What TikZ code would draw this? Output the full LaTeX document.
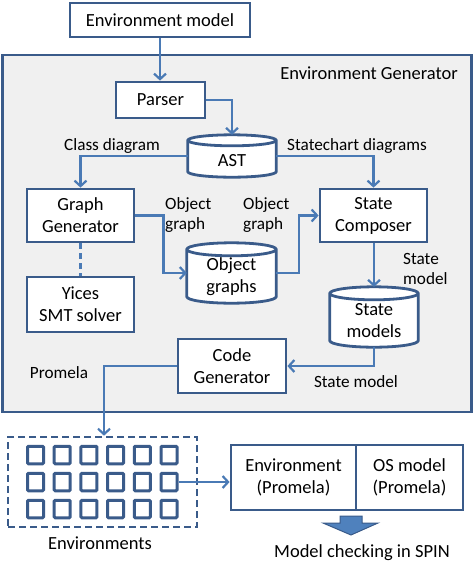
\documentclass[tikz,border=0pt]{standalone}
\usepackage{fontspec}
\setmainfont{Carlito}
\usetikzlibrary{arrows.meta,calc}
\definecolor{boxcol}{HTML}{3A5B8A}
\definecolor{linecol}{HTML}{4A7AB5}
\definecolor{genfill}{HTML}{F0F0F0}
\definecolor{arrfill}{HTML}{4F81BD}
\tikzset{
  boxnode/.style={draw=boxcol, line width=2.8pt, fill=white, inner sep=0pt, align=center,
    font=\fontsize{18.5}{22}\selectfont},
  cylnode/.style={inner sep=0pt},
  cyltext/.style={inner sep=0pt, align=center, font=\fontsize{18.5}{22}\selectfont},
  lbl/.style={inner sep=0pt, font=\fontsize{17.2}{20}\selectfont},
  conn/.style={draw=linecol, line width=2.2pt, -{Straight Barb[length=5.5pt,width=12pt,line width=2.2pt]}},
  plainconn/.style={draw=linecol, line width=2.2pt},
  sq/.style={draw=boxcol, line width=3pt, rounded corners=1pt, minimum width=16pt, minimum height=17.5pt, inner sep=0pt}
}
\newcommand\drawcyl[2]{%
  \path[draw=boxcol, line width=2.8pt, fill=white]
    let \p1=(#1.north west), \p2=(#1.south east), \n1={(\x2-\x1)/2} in
    (\x1,\y1-#2pt) -- (\x1,\y2+#2pt)
    arc[start angle=180, end angle=360, x radius=\n1, y radius=#2pt]
    -- (\x2,\y1-#2pt)
    arc[start angle=0, end angle=180, x radius=\n1, y radius=#2pt] -- cycle
    (\x1,\y1-#2pt) arc[start angle=180, end angle=360, x radius=\n1, y radius=#2pt];}
\begin{document}
\begin{tikzpicture}[x=1pt,y=-1pt]
\useasboundingbox (0,0) rectangle (474,566);
% generator frame
\node[draw=boxcol, line width=2.8pt, fill=genfill, minimum width=469pt, minimum height=357pt, inner sep=0pt] (gen) at (237,233.5) {};
\node[lbl, font=\fontsize{18.5}{22}\selectfont, anchor=east] (genlbl) at (458,73) {Environment Generator};
% boxes
\node[boxnode, minimum width=180pt, minimum height=34pt] (envmodel) at (160,20) {Environment model};
\node[boxnode, minimum width=89pt, minimum height=36pt] (parser) at (160.5,100) {Parser};
\node[boxnode, minimum width=107pt, minimum height=53pt] (graphgen) at (80.5,215.5) {Graph\\Generator};
\node[boxnode, minimum width=107pt, minimum height=55pt] (yices) at (80.5,304.5) {Yices\\SMT solver};
\node[boxnode, minimum width=107pt, minimum height=53pt] (statecomp) at (373.5,215.5) {State\\Composer};
\node[boxnode, minimum width=108pt, minimum height=54pt] (codegen) at (232,366) {Code\\Generator};
% cylinders
\node[cylnode, minimum width=88pt, minimum height=42pt] (ast) at (232,156) {};
\drawcyl{ast}{5.5}
\node[cyltext] (asttext) at (232,161) {AST};
\node[cylnode, minimum width=89pt, minimum height=60pt] (objgraphs) at (231.5,273) {};
\drawcyl{objgraphs}{6.5}
\node[cyltext] (objtext) at (231.5,277) {Object\\graphs};
\node[cylnode, minimum width=88pt, minimum height=60pt] (statemodels) at (374,317) {};
\drawcyl{statemodels}{6.5}
\node[cyltext] (smtext) at (374,321) {State\\models};
% labels
\node[lbl] (lclass) at (112,146) {Class diagram};
\node[lbl] (lstatechart) at (357,146) {Statechart diagrams};
\node[lbl, align=left, anchor=west] (lobj1) at (165,215) {Object\\graph};
\node[lbl, align=left, anchor=west] (lobj2) at (243,215) {Object\\graph};
\node[lbl, align=left, anchor=west] (lsm1) at (403,269) {State\\model};
\node[lbl] (lsm2) at (356,382) {State model};
\node[lbl] (lprom) at (59,373) {Promela};
% connectors inside
\draw[conn] (envmodel.south) -- (envmodel.south |- parser.north);
\draw[conn] (parser.east) -| (ast.north);
\draw[conn] (ast.west) -| (graphgen.north);
\draw[conn] (ast.east) -| (statecomp.north);
\draw[conn] (graphgen.east) -- ++(28,0) |- (objgraphs.west);
\draw[conn] (objgraphs.east) -- ++(23,0) |- (statecomp.west);
\draw[plainconn, dash pattern=on 6pt off 4pt] (graphgen.south) -- (yices.north);
\draw[conn] (statecomp.south -| statemodels.north) -- (statemodels.north);
\draw[conn] (statemodels.south) |- (codegen.east);
% environments
\node[draw=boxcol, line width=2.6pt, dash pattern=on 7pt off 4pt, minimum width=189pt, minimum height=90pt, inner sep=0pt] (envs) at (102.5,482) {};
\foreach \r/\yy in {1/455,2/482,3/509} {
  \foreach \c in {1,...,6} {
    \node[sq] (sq-\r-\c) at ({35.5+(\c-1)*26.7},\yy) {};
  }
}
\draw[conn] (codegen.west) -| ([xshift=1.5pt]envs.north);
\node[boxnode, minimum width=125pt, minimum height=65pt] (envprom) at (293.5,477.5) {Environment\\(Promela)};
\node[boxnode, minimum width=107pt, minimum height=65pt] (osprom) at (409.5,477.5) {OS model\\(Promela)};
\draw[conn] (sq-2-6.east) -- (sq-2-6.east -| envprom.west);
% block arrow
\draw[draw=boxcol, line width=1pt, fill=arrfill] (340,516) -- (362,516) -- (362,523) -- (378,523) -- (351,535) -- (323,523) -- (340,523) -- cycle;
\node[lbl, font=\fontsize{18.5}{22}\selectfont] (lenvs) at (100,543) {Environments};
\node[lbl, font=\fontsize{18.5}{22}\selectfont] (lspin) at (362,553) {Model checking in SPIN};
\end{tikzpicture}
\end{document}
